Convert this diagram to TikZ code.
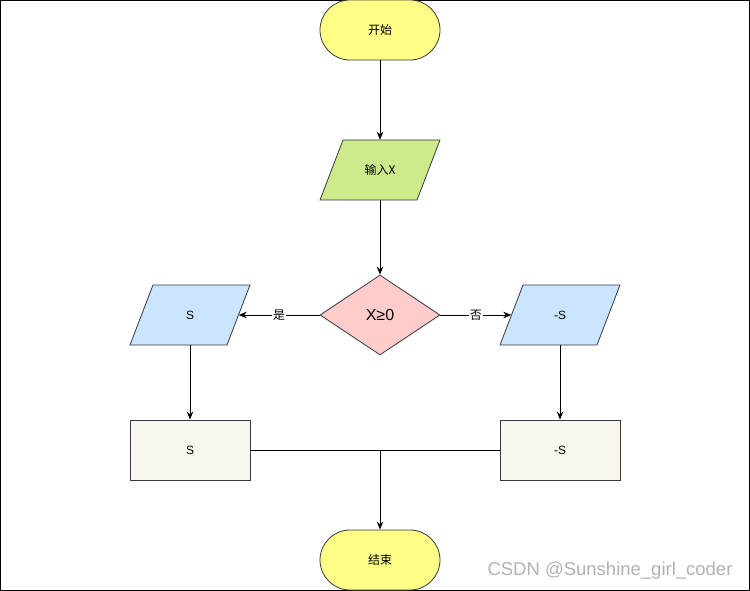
\documentclass[tikz,border=0pt]{standalone}
\usepackage{fontspec}
\setmainfont{Liberation Sans}
\newfontfamily\cjk{Noto Sans CJK SC}
\usetikzlibrary{shapes.geometric,arrows.meta}
\definecolor{strk}{HTML}{36393D}
\definecolor{yel}{HTML}{FFFF88}
\definecolor{grn}{HTML}{CDEB8B}
\definecolor{pnk}{HTML}{FFCCCC}
\definecolor{blu}{HTML}{CCE5FF}
\definecolor{crm}{HTML}{F9F7ED}
\tikzset{
  x=1pt,y=-1pt,
  base/.style={draw=strk,line width=0.8pt,inner sep=0pt,font=\fontsize{12}{14}\selectfont,text=black},
  term/.style={base,fill=yel,rounded corners=30pt,minimum width=120pt,minimum height=60pt,font=\cjk\fontsize{12}{14}\selectfont},
  paratext/.style={inner sep=0pt,minimum width=97pt,minimum height=60pt,font=\fontsize{12}{14}\selectfont,text=black},
  parashape/.style={draw=strk,line width=0.8pt},
  dec/.style={base,diamond,fill=pnk,minimum width=120pt,minimum height=80pt,font=\fontsize{16}{18}\selectfont},
  proc/.style={base,fill=crm,minimum width=120pt,minimum height=60pt},
  arr/.style={line width=0.9pt,-{Stealth[length=8pt,width=6.5pt]}},
  ln/.style={line width=0.9pt},
  lab/.style={fill=white,inner sep=1pt,font=\cjk\fontsize{12}{14}\selectfont}
}
\newcommand\myparallel[5]{%
  \path[parashape,fill=#4] (#2-37,#3-30) -- (#2+60,#3-30) -- (#2+37,#3+30) -- (#2-60,#3+30) -- cycle;
  \node[paratext] (#1) at (#2,#3) {#5};}
\begin{document}
\begin{tikzpicture}
\useasboundingbox (0,0) rectangle (750,591);
\draw[line width=1pt] (0.5,0.5) rectangle (749.5,590.5);
\node[term] (st) at (380,30) {开始};
\myparallel{in}{380}{170}{grn}{\cjk 输入X}
\node[dec] (d) at (380,315) {X≥0};
\myparallel{p1}{190}{315}{blu}{S}
\myparallel{p2}{560}{315}{blu}{-S}
\node[proc] (r1) at (190,450) {S};
\node[proc] (r2) at (560,450) {-S};
\node[term] (en) at (380,560) {结束};
\node[text=black!30,font=\fontsize{18.5}{20}\selectfont] (wm) at (610,571) {CSDN @Sunshine\_girl\_coder};
\draw[arr] (st.south) -- (in.north);
\draw[arr] (in.south) -- (d.north);
\draw[arr] (d.west) -- node[lab]{是} (p1.east);
\draw[arr] (d.east) -- node[lab]{否} (p2.west);
\draw[arr] (p1.south) -- (r1.north);
\draw[arr] (p2.south) -- (r2.north);
\draw[ln] (r1.east) -- (r2.west);
\coordinate (j) at (r1.east -| en.north);
\draw[arr] (j) -- (en.north);
\end{tikzpicture}
\end{document}
